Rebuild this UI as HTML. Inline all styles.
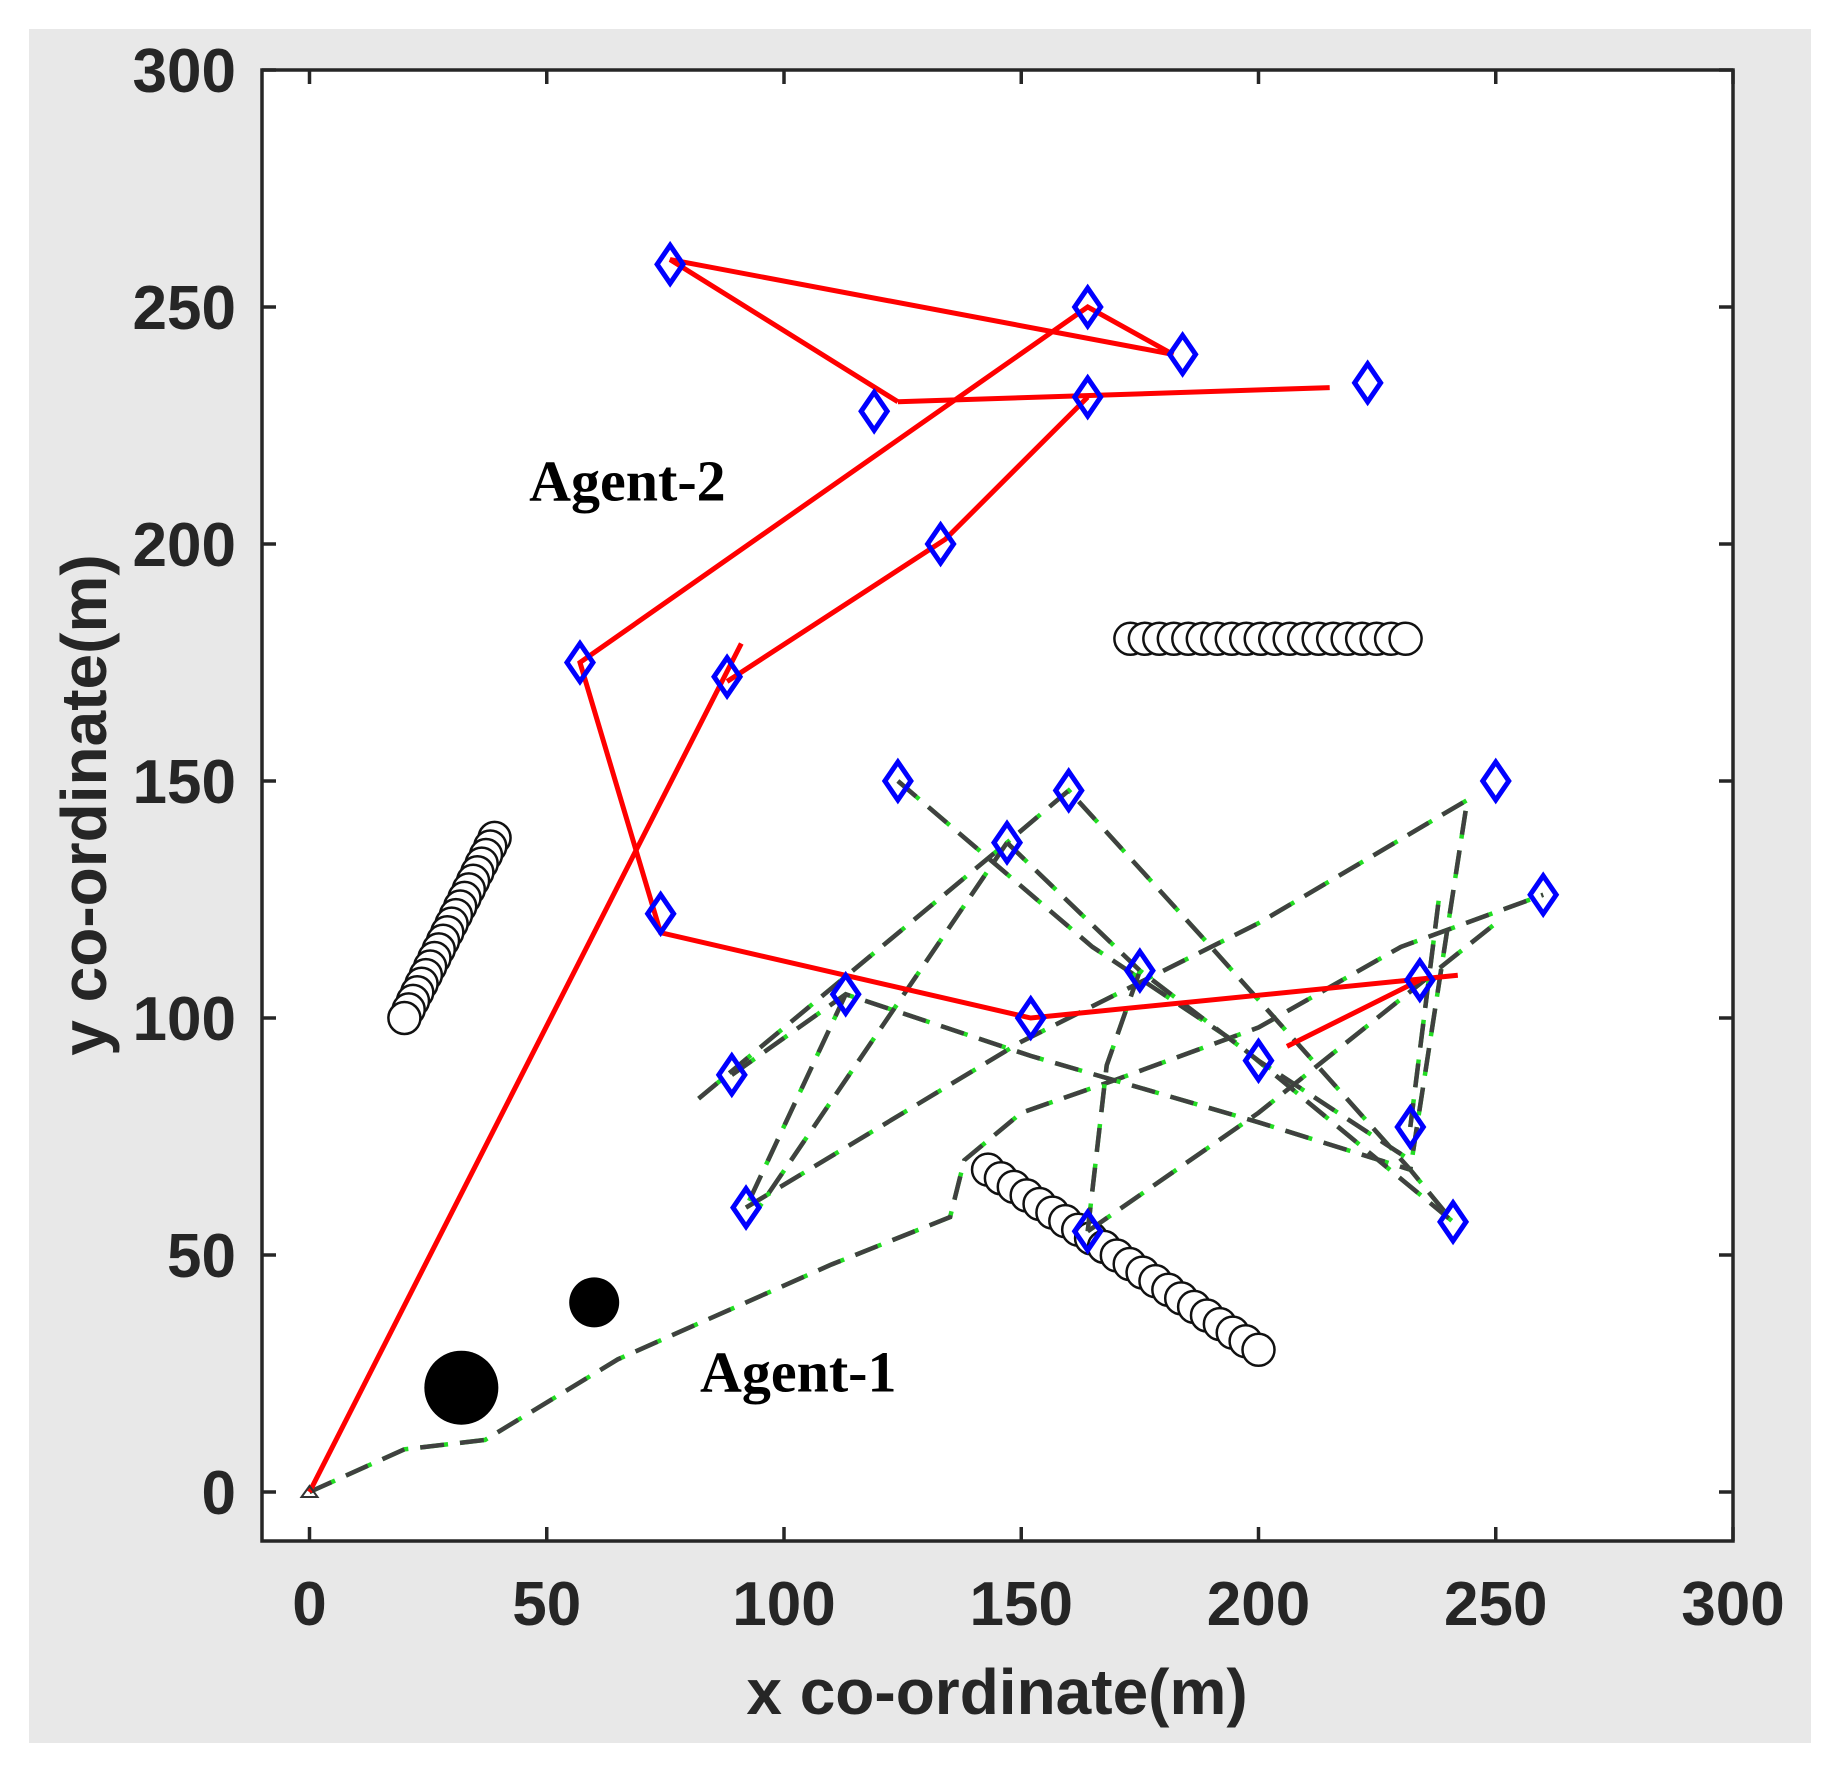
<!DOCTYPE html>
<html><head><meta charset="utf-8"><style>
body{margin:0;background:#fff;}
svg{display:block;}
</style></head><body>
<svg id="s" width="1843" height="1784" xmlns="http://www.w3.org/2000/svg">
<rect x="0" y="0" width="1843" height="1784" fill="#fff"/>
<rect x="29" y="29" width="1782" height="1714" fill="#e8e8e8"/>
<rect x="262" y="70" width="1471" height="1471" fill="#fff"/>
<g id="plot"></g>
<rect x="262" y="70" width="1471" height="1471" fill="none" stroke="#262626" stroke-width="3.5"/>
<g id="ticks" stroke="#262626" stroke-width="3.5"></g>
<g id="labels" font-family="Liberation Sans, sans-serif" font-weight="bold" font-size="62" fill="#262626"></g>
<text x="997" y="1714" text-anchor="middle" font-family="Liberation Sans, sans-serif" font-weight="bold" font-size="64" fill="#262626">x co-ordinate(m)</text>
<text transform="translate(106,805) rotate(-90)" text-anchor="middle" font-family="Liberation Sans, sans-serif" font-weight="bold" font-size="64" fill="#262626">y co-ordinate(m)</text>
</svg>
<script>
const X=x=>309.5+4.745*x, Y=y=>1492-4.74*y;
const NS="http://www.w3.org/2000/svg";
const plot=document.getElementById('plot');
function el(t,a,p){const e=document.createElementNS(NS,t);for(const k in a)e.setAttribute(k,a[k]);(p||plot).appendChild(e);return e;}
function pts(a){return a.map(p=>X(p[0]).toFixed(1)+','+Y(p[1]).toFixed(1)).join(' ');}
const tk=document.getElementById('ticks'),lb=document.getElementById('labels');
for(let v=0;v<=300;v+=50){
 const px=X(v),py=Y(v);
 el('line',{x1:px,y1:1541,x2:px,y2:1527},tk);el('line',{x1:px,y1:70,x2:px,y2:84},tk);
 el('line',{x1:262,y1:py,x2:276,y2:py},tk);el('line',{x1:1733,y1:py,x2:1719,y2:py},tk);
 const t=el('text',{x:px,y:1625,'text-anchor':'middle'},lb);t.textContent=v;
 const u=el('text',{x:236,y:py+22,'text-anchor':'end'},lb);u.textContent=v;
}
function chain(a,b,n,r){for(let i=n-1;i>=0;i--){const t=i/(n-1);el('circle',{cx:X(a[0]+(b[0]-a[0])*t),cy:Y(a[1]+(b[1]-a[1])*t),r:r,fill:'#fff',stroke:'#111','stroke-width':2.5});}}
chain([20,100],[39,138],22,16);
chain([231,180],[173,180],20,16);
chain([200,30],[143,68],22,16);
el('circle',{cx:X(32),cy:Y(22),r:37,fill:'#000'});
el('circle',{cx:X(60),cy:Y(40),r:25,fill:'#000'});
const dl=[
 [[0,0],[20,9],[37,11],[65,28],[110,48],[135,58],[138,70],[150,80],[170,87],[200,98],[230,115],[260,126]],
 [[82,83],[147,137]],
 [[89,88],[113,105],[152,92],[200,78],[232,68],[241,57]],
 [[92,56],[147,137],[160,148],[190,115],[232,68]],
 [[124,150],[165,115],[195,95],[241,57]],
 [[92,60],[150,95],[200,120],[244,146],[232,68]],
 [[164,55],[168,90],[175,110]],
 [[147,137],[175,110],[200,91],[232,70]],
 [[113,105],[92,60]],
 [[164,55],[200,80],[250,120]],
 [[232,77],[238,125]]
];
dl.forEach(l=>{
 el('polyline',{points:pts(l),fill:'none',stroke:'#22dd22','stroke-width':4.5,'stroke-dasharray':'28 12'});
 el('polyline',{points:pts(l),fill:'none',stroke:'#404040','stroke-width':4.5,'stroke-dasharray':'24 16'});
});
const rl=[
 [[0,0],[91,179]],
 [[88,171],[134,201],[164,231]],
 [[124,230],[215,233]],
 [[124,230],[76,260],[182,240],[164,250],[57,175],[74,118],[152,100],[242,109]],
 [[234,108],[206,94]]
];
rl.forEach(l=>el('polyline',{points:pts(l),fill:'none',stroke:'#ff0000','stroke-width':5}));
el('polygon',{points:`${X(0)-8},${Y(0)+5} ${X(0)+8},${Y(0)+5} ${X(0)},${Y(0)-6}`,fill:'none',stroke:'#333','stroke-width':2});
const dm=[[76,259],[164,250],[184,240],[119,228],[164,231],[223,234],[133,200],[57,175],[88,172],[74,122],[124,150],[160,148],[147,137],[250,150],[260,126],[175,110],[113,105],[152,100],[234,108],[200,91],[89,88],[232,77],[92,60],[164,55],[241,57]];
dm.forEach(p=>{const x=X(p[0]),y=Y(p[1]);el('polygon',{points:`${x},${y-19} ${x+13},${y} ${x},${y+19} ${x-13},${y}`,fill:'none',stroke:'#0000ff','stroke-width':5});});
const a2=el('text',{x:X(67),y:Y(213)+18,'text-anchor':'middle','font-family':'Liberation Serif, serif','font-weight':'bold','font-size':58,fill:'#000'});a2.textContent='Agent-2';
const a1=el('text',{x:X(103),y:Y(25)+18,'text-anchor':'middle','font-family':'Liberation Serif, serif','font-weight':'bold','font-size':58,fill:'#000'});a1.textContent='Agent-1';
</script>
</body></html>
